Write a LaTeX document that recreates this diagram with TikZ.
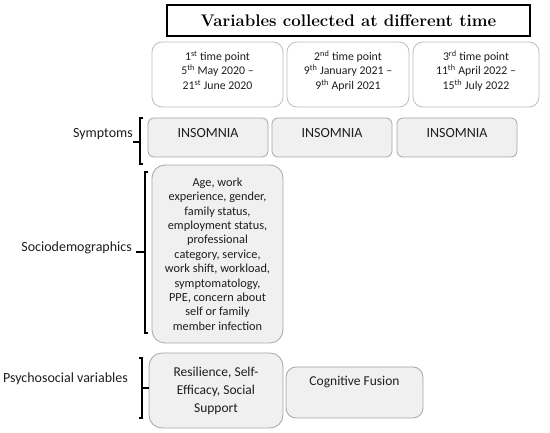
\documentclass[tikz,border=0pt]{standalone}
\usepackage{fontspec}
\newfontfamily\calib{Carlito}
\definecolor{boxfill}{HTML}{F0F0F0}
\definecolor{boxline}{HTML}{A6A6A6}
\definecolor{timeline}{HTML}{BDBDBD}
\definecolor{txt}{HTML}{1E1E1E}
\begin{document}
\begin{tikzpicture}[x=1pt,y=-1pt,
  titlebox/.style={draw=black,line width=1.4pt,minimum width=363pt,minimum height=31pt,inner sep=0pt,
    font=\fontsize{16.8}{20}\selectfont\bfseries},
  timebox/.style={draw=timeline,fill=white,rounded corners=10pt,line width=0.8pt,minimum height=65pt,inner sep=0pt,
    align=center,text=txt,font=\calib\fontsize{11.8}{14.5}\selectfont,text height=37.5pt,text depth=7.5pt},
  insbox/.style={draw=boxline,fill=boxfill,rounded corners=6pt,line width=0.8pt,minimum width=120pt,minimum height=39pt,
    inner sep=0pt,text=txt,font=\calib\fontsize{14}{17}\selectfont,text height=9pt,text depth=9pt},
  graybox/.style={draw=boxline,fill=boxfill,rounded corners=13pt,line width=0.8pt,inner sep=0pt,align=center,text=txt},
  rowlabel/.style={anchor=east,inner sep=0pt,text=txt,font=\calib\fontsize{14}{16}\selectfont},
  brack/.style={line width=1.2pt,black}]
\useasboundingbox (0,0) rectangle (550,433);

\node[titlebox] (title) at (348.5,20.5) {Variables collected at different time};

\node[timebox,minimum width=131pt] (t1) at (217.5,74.5)
  {1\textsuperscript{st} time point\\5\textsuperscript{th} May 2020 \textendash\\21\textsuperscript{st} June 2020};
\node[timebox,minimum width=122pt] (t2) at (348,74.5)
  {2\textsuperscript{nd} time point\\9\textsuperscript{th} January 2021 \textendash\\9\textsuperscript{th} April 2021};
\node[timebox,minimum width=126pt] (t3) at (476,74.5)
  {3\textsuperscript{rd} time point\\11\textsuperscript{th} April 2022 \textendash\\15\textsuperscript{th} July 2022};

\node[insbox] (i1) at (208,137.5) {INSOMNIA};
\node[insbox] (i2) at (332,137.5) {INSOMNIA};
\node[insbox] (i3) at (457,137.5) {INSOMNIA};

\node[graybox,minimum width=131pt,minimum height=178pt,
  font=\calib\fontsize{12.3}{14.4}\selectfont] (socio) at (217.5,254)
  {Age, work\\experience, gender,\\family status,\\employment status,\\professional\\category, service,\\work shift, workload,\\symptomatology,\\PPE, concern about\\self or family\\member infection};

\node[graybox,minimum width=134pt,minimum height=75pt,
  font=\calib\fontsize{13.5}{18}\selectfont] (psy1) at (216,390.5)
  {Resilience, Self-\\Efficacy, Social\\Support};
\node[graybox,rounded corners=10pt,minimum width=137pt,minimum height=51pt,
  font=\calib\fontsize{13.5}{16}\selectfont,text height=10pt,text depth=24pt] (psy2) at (354.5,392.5)
  {Cognitive Fusion};

\node[rowlabel] (lsym) at (133,134) {Symptoms};
\node[rowlabel] (lsoc) at (132,248) {Sociodemographics};
\node[rowlabel] (lpsy) at (128,379) {Psychosocial variables};

% brackets
\draw[brack] (143,118) -- (140,118) -- (140,164) -- (143,164);
\draw[brack] (140,142) -- (lsym.south east |- 0,142);
\draw[brack] (148,172) -- (145,172) -- (145,333) -- (148,333);
\draw[brack] (145,252) -- (136,252);
\draw[brack] (139,358) -- (142,358) -- (142,418) -- (139,418);
\draw[brack] (142,388) -- (psy1.west |- 0,388);
\end{tikzpicture}
\end{document}
